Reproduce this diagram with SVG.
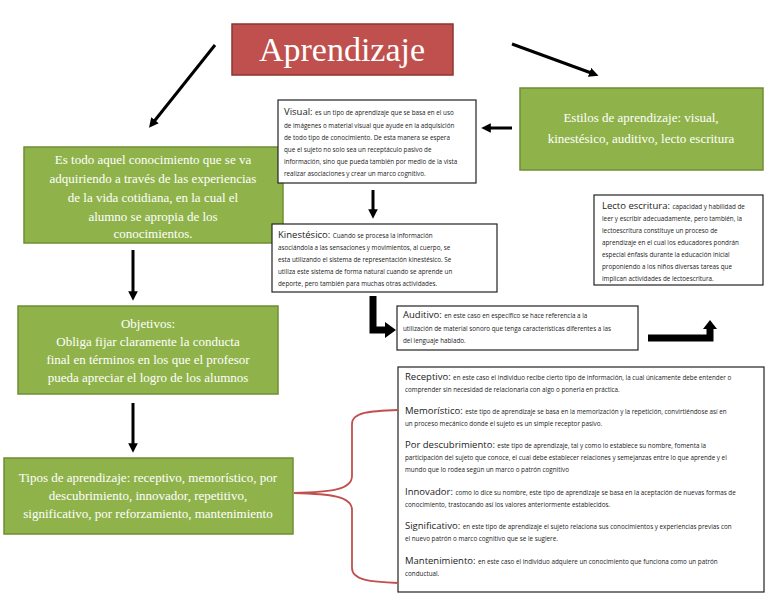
<svg xmlns="http://www.w3.org/2000/svg" width="768" height="594" viewBox="0 0 768 594">
<defs>
<marker id="ah" viewBox="0 0 10 10" refX="5" refY="5" markerWidth="3.2" markerHeight="3.2" orient="auto"><path d="M0,0 L10,5 L0,10 z" fill="#000"/></marker>
<style>
.g{fill:#8fb34a;stroke:#6f8f35;stroke-width:1.5}
.gt{font-family:"Liberation Serif",serif;font-size:13px;fill:#fff;text-anchor:middle}
.w{fill:#fff;stroke:#222;stroke-width:1.2}
.s{font-family:"Open Sans","Noto Sans",sans-serif;font-size:6.3px;fill:#222}
.h{font-size:9.5px}
.a{stroke:#000;stroke-width:3;fill:none}
.b{stroke:#000;stroke-width:7;fill:none}
</style>
</defs>
<rect width="768" height="594" fill="#fff"/>
<g id="titulo"><rect x="232" y="24" width="221" height="51" fill="#c0504d" stroke="#8c3431" stroke-width="1.5"/><text x="342" y="61" font-family="Liberation Serif,serif" font-size="34" fill="#fff" text-anchor="middle">Aprendizaje</text></g>
<g id="definicion"><rect class="g" x="24" y="147" width="259" height="96"/><text class="gt"><tspan x="153" y="164">Es todo aquel conocimiento que se va</tspan><tspan x="153" y="183">adquiriendo a través de las experiencias</tspan><tspan x="153" y="202">de la vida cotidiana, en la cual el</tspan><tspan x="153" y="221">alumno se apropia de los</tspan><tspan x="153" y="238">conocimientos.</tspan></text></g>
<g id="objetivos"><rect class="g" x="18" y="306" width="260" height="88"/><text class="gt"><tspan x="148" y="328">Objetivos:</tspan><tspan x="148" y="346">Obliga fijar claramente la conducta</tspan><tspan x="148" y="364">final en términos en los que el profesor</tspan><tspan x="148" y="382">pueda apreciar el logro de los alumnos</tspan></text></g>
<g id="tipos"><rect class="g" x="4" y="458" width="289" height="76"/><text class="gt"><tspan x="148" y="482">Tipos  de aprendizaje: receptivo, memorístico, por</tspan><tspan x="148" y="500">descubrimiento, innovador, repetitivo,</tspan><tspan x="148" y="518">significativo, por reforzamiento, mantenimiento</tspan></text></g>
<g id="estilos"><rect class="g" x="520" y="88" width="243" height="82"/><text class="gt"><tspan x="641" y="122">Estilos de aprendizaje: visual,</tspan><tspan x="641" y="143">kinestésico, auditivo, lecto escritura</tspan></text></g>
<g id="visual"><rect class="w" x="278" y="100" width="198" height="83"/><text class="s"><tspan x="284" y="115"><tspan class="h">Visual: </tspan>es un tipo de aprendizaje que se basa en el uso</tspan><tspan x="284" y="128">de imágenes o material visual que ayude en la adquisición</tspan><tspan x="284" y="140">de todo tipo de conocimiento. De esta manera se espera</tspan><tspan x="284" y="152">que el sujeto no solo sea un receptáculo pasivo de</tspan><tspan x="284" y="164">información, sino que pueda también por medio de la vista</tspan><tspan x="284" y="176">realizar asociaciones y crear un marco cognitivo.</tspan></text></g>
<g id="kinestesico"><rect class="w" x="272" y="224" width="225" height="68"/><text class="s"><tspan x="278" y="238"><tspan class="h">Kinestésico: </tspan>Cuando se procesa la información</tspan><tspan x="278" y="250">asociándola a las sensaciones y movimientos, al cuerpo, se</tspan><tspan x="278" y="262">esta utilizando el sistema de representación kinestésico. Se</tspan><tspan x="278" y="274">utiliza este sistema de forma natural cuando se aprende un</tspan><tspan x="278" y="286">deporte, pero también para muchas otras actividades.</tspan></text></g>
<g id="auditivo"><rect class="w" x="397" y="306" width="241" height="44"/><text class="s"><tspan x="403" y="318"><tspan class="h">Auditivo: </tspan>en este caso en específico se hace referencia a la</tspan><tspan x="403" y="331">utilización de material sonoro que tenga características diferentes a las</tspan><tspan x="403" y="343">del lenguaje hablado.</tspan></text></g>
<g id="lecto"><rect class="w" x="594" y="195" width="169" height="90"/><text class="s"><tspan x="602" y="209"><tspan class="h">Lecto escritura: </tspan>capacidad y habilidad de</tspan><tspan x="602" y="221">leer y escribir adecuadamente, pero también, la</tspan><tspan x="602" y="233">lectoescritura constituye un proceso de</tspan><tspan x="602" y="245">aprendizaje en el cual los educadores pondrán</tspan><tspan x="602" y="257">especial énfasis durante la educación inicial</tspan><tspan x="602" y="269">proponiendo a los niños diversas tareas que</tspan><tspan x="602" y="281">implican actividades de lectoescritura.</tspan></text></g>
<g id="tipos-detalle"><rect class="w" x="398" y="367" width="366" height="225"/><text class="s"><tspan x="405" y="380"><tspan class="h">Receptivo: </tspan>en este caso el individuo recibe cierto tipo de información, la cual únicamente debe entender o</tspan><tspan x="405" y="392">comprender sin necesidad de relacionarla con algo o ponerla en práctica.</tspan><tspan x="405" y="414"><tspan class="h">Memorístico: </tspan>este tipo de aprendizaje se basa en la memorización y la repetición, convirtiéndose así en</tspan><tspan x="405" y="426">un proceso mecánico donde el sujeto es un simple receptor pasivo.</tspan><tspan x="405" y="448"><tspan class="h">Por descubrimiento: </tspan>este tipo de aprendizaje, tal y como lo establece su nombre, fomenta la</tspan><tspan x="405" y="460">participación del sujeto que conoce, el cual debe establecer relaciones y semejanzas entre lo que aprende y el</tspan><tspan x="405" y="472">mundo que lo rodea según un marco o patrón cognitivo</tspan><tspan x="405" y="495"><tspan class="h">Innovador: </tspan>como lo dice su nombre, este tipo de aprendizaje se basa en la aceptación de nuevas formas de</tspan><tspan x="405" y="507">conocimiento, trastocando así los valores anteriormente establecidos.</tspan><tspan x="405" y="529"><tspan class="h">Significativo: </tspan>en este tipo de aprendizaje el sujeto relaciona sus conocimientos y experiencias previas con</tspan><tspan x="405" y="541">el nuevo patrón o marco cognitivo que se le sugiere.</tspan><tspan x="405" y="564"><tspan class="h">Mantenimiento: </tspan>en este caso el individuo adquiere un conocimiento que funciona como un patrón</tspan><tspan x="405" y="576">conductual.</tspan></text></g>
<g id="conectores">
<line class="a" x1="215" y1="45" x2="152" y2="124" marker-end="url(#ah)"/>
<line class="a" x1="512" y1="44" x2="594" y2="74" marker-end="url(#ah)"/>
<line class="a" x1="133" y1="250" x2="133" y2="296" marker-end="url(#ah)"/>
<line class="a" x1="133" y1="403" x2="133" y2="448" marker-end="url(#ah)"/>
<line class="a" x1="512" y1="128" x2="486" y2="128" marker-end="url(#ah)"/>
<line class="a" x1="373" y1="190" x2="373" y2="214" marker-end="url(#ah)"/>
<path class="b" d="M373,296 V330 H386"/><path d="M385,322 L396,330 L385,338 z" fill="#000"/>
<path class="b" d="M648,338 H710 V328"/><path d="M703,329 L710,320 L717,329 z" fill="#000"/>
<path d="M294,493 C330,492 352,490 352,476 V424 C352,412 370,411 398,410 M294,493 C330,494 352,496 352,510 V568 C352,580 370,582 398,583" stroke="#c0504d" stroke-width="1.8" fill="none"/>
</g>
</svg>
